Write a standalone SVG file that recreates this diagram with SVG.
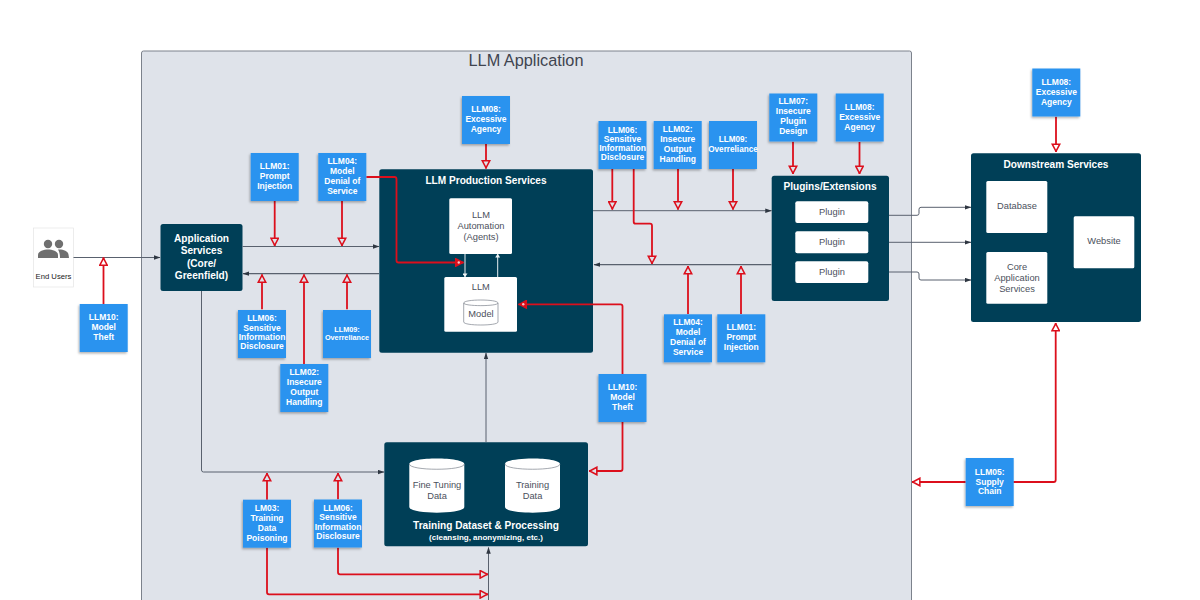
<svg xmlns="http://www.w3.org/2000/svg" width="1200" height="600" viewBox="0 0 1200 600">
<style>
text{font-family:"Liberation Sans",Arial,sans-serif;text-anchor:middle}
.note rect{fill:#2a93ef;filter:url(#sh)}
.note text{fill:#fff;font-weight:700;font-size:8.5px}
.note .s{font-size:7.3px}
.note .m{font-size:8.2px}
.dark{fill:#003f57}
.hd{fill:#fff;font-weight:700;font-size:10.1px}
.box{fill:#fff}
.t{fill:#4b505c;font-size:9.3px}
.g{fill:none;stroke:#59616e;stroke-width:1}
.gb{fill:none;stroke:#59616e;stroke-width:1.3}
.r{fill:none;stroke:#dc0f1c;stroke-width:1.8}
.w{fill:none;stroke:#e6eef2;stroke-width:1}
</style>
<defs>
<filter id="sh" x="-20%" y="-20%" width="140%" height="140%"><feDropShadow dx="-1" dy="1.5" stdDeviation="1" flood-color="#000" flood-opacity=".3"/></filter>
<marker id="h" viewBox="0 0 8 8" refX="7.6" refY="4" markerWidth="9.5" markerHeight="9.5" markerUnits="userSpaceOnUse" orient="auto"><path d="M1 .8L7 4L1 7.2Z" fill="#dfe3ea" stroke="#dc0f1c" stroke-width="1.3"/></marker>
<marker id="hw" viewBox="0 0 8 8" refX="7.6" refY="4" markerWidth="9.5" markerHeight="9.5" markerUnits="userSpaceOnUse" orient="auto"><path d="M1 .8L7 4L1 7.2Z" fill="#fff" stroke="#dc0f1c" stroke-width="1.3"/></marker>
<marker id="hd" viewBox="0 0 8 8" refX="7.6" refY="4" markerWidth="9.5" markerHeight="9.5" markerUnits="userSpaceOnUse" orient="auto"><path d="M1 .8L7 4L1 7.2Z" fill="#dc0f1c" stroke="#dc0f1c" stroke-width="1.2"/><circle cx="3.6" cy="4" r="1" fill="#f3c7ca"/></marker>
<marker id="a" viewBox="0 0 8 6" refX="7.5" refY="3" markerWidth="7" markerHeight="5" markerUnits="userSpaceOnUse" orient="auto"><path d="M0 .3L8 3L0 5.7Z" fill="#2f3742"/></marker>
<marker id="aw" viewBox="0 0 6 8" refX="5.5" refY="4" markerWidth="6" markerHeight="5" markerUnits="userSpaceOnUse" orient="auto"><path d="M0 0L6 4L0 8Z" fill="#eef4f6"/></marker>
</defs>
<rect width="1200" height="600" fill="#fff"/>
<g id="container"><rect x="141.5" y="51" width="770" height="560" rx="2" fill="#dfe3ea" stroke="#7c828c" stroke-width="1"/><text x="526" y="66" font-size="16.300" fill="#3f4550">LLM Application</text></g>

<g id="end-users"><rect x="33.500" y="228" width="40" height="59" fill="#fff" stroke="#e4e4e4" stroke-width=".7"/>
<circle cx="48" cy="244" r="4.200" fill="#6f6f6f"/><circle cx="59" cy="244" r="4.200" fill="#6f6f6f"/><path d="M38 258v-3c0-4 6-5.500 10-5.500s10 1.500 10 5.500v3Z" fill="#6f6f6f"/><path d="M58 249.500c4-.5 10 1 10.500 5l.5 3.500h-9c0-3-.5-6-2-8.500Z" fill="#6f6f6f"/>
<text x="53.500" y="279" font-size="7.700" fill="#222">End Users</text></g>

<g id="app-services"><rect class="dark" x="160.500" y="224" width="82" height="67" rx="2.500"/><text class="hd" x="201.500" y="242">Application</text><text class="hd" x="201.500" y="254">Services</text><text class="hd" x="201.500" y="266.500">(Core/</text><text class="hd" x="201.500" y="278.500">Greenfield)</text></g>

<g id="llm-production"><rect class="dark" x="379.300" y="169.300" width="213.700" height="183.400" rx="2.500"/><text class="hd" x="486" y="183.700">LLM Production Services</text></g>
<g id="llm-automation"><rect class="box" x="449.300" y="198.300" width="62.700" height="55.700" rx="1.500"/><text class="t" x="481" y="217.500">LLM</text><text class="t" x="481" y="228.500">Automation</text><text class="t" x="481" y="239.500">(Agents)</text></g>
<g id="llm"><rect class="box" x="444.300" y="277" width="72.700" height="54.700" rx="1.500"/><text class="t" x="480.800" y="290">LLM</text><path d="M463.700 303v19c0 4 34.300 4 34.300 0v-19c0-4-34.300-4-34.300 0Zm0 0c0 3.500 34.300 3.500 34.300 0" fill="#fff" stroke="#7d838d" stroke-width=".7"/><text class="t" x="481" y="317">Model</text></g>

<g id="plugins"><rect class="dark" x="771.700" y="175.700" width="117.300" height="125.300" rx="2.500"/><text class="hd" x="830" y="189.500">Plugins/Extensions</text></g>
<g id="plugin-1"><rect class="box" x="795.300" y="201.300" width="73" height="21.700" rx="2"/><text class="t" x="832" y="215">Plugin</text></g>
<g id="plugin-2"><rect class="box" x="795.300" y="231.300" width="73" height="22" rx="2"/><text class="t" x="832" y="245">Plugin</text></g>
<g id="plugin-3"><rect class="box" x="795.300" y="261.300" width="73" height="21.700" rx="2"/><text class="t" x="832" y="275">Plugin</text></g>

<g id="downstream"><rect class="dark" x="971" y="153.300" width="170" height="168.700" rx="2.500"/><text class="hd" x="1056" y="167.500">Downstream Services</text></g>
<g id="database"><rect class="box" x="986.300" y="181" width="61" height="52" rx="1.500"/><text class="t" x="1017" y="208.500">Database</text></g>
<g id="website"><rect class="box" x="1073.700" y="216.300" width="60.600" height="52" rx="1.500"/><text class="t" x="1104" y="244">Website</text></g>
<g id="core-app"><rect class="box" x="986.300" y="252" width="61" height="51.700" rx="1.500"/><text class="t" x="1017" y="269.500">Core</text><text class="t" x="1017" y="280.500">Application</text><text class="t" x="1017" y="291.500">Services</text></g>

<g id="training"><rect class="dark" x="384.300" y="442.300" width="203.700" height="104" rx="2.500"/>
<path d="M409.300 464v43c0 7.500 55 7.500 55 0v-43c0-7.500-55-7.500-55 0Z" fill="#fff"/><path d="M409.300 464c0 7 55 7 55 0" fill="none" stroke="#7d838d" stroke-width=".7"/>
<path d="M505 464v43c0 7.500 55 7.500 55 0v-43c0-7.500-55-7.500-55 0Z" fill="#fff"/><path d="M505 464c0 7 55 7 55 0" fill="none" stroke="#7d838d" stroke-width=".7"/>
<text class="t" x="437" y="488">Fine Tuning</text><text class="t" x="437" y="499">Data</text><text class="t" x="532.500" y="488">Training</text><text class="t" x="532.500" y="499">Data</text>
<text class="hd" x="486" y="528.500">Training Dataset &amp; Processing</text><text x="486" y="539.500" fill="#fff" font-weight="700" font-size="8">(cleansing, anonymizing, etc.)</text></g>

<g id="connectors">
<path class="g" marker-end="url(#a)" d="M73.500 257.500H160"/>
<path class="g" marker-end="url(#a)" d="M242.500 246.500H379"/>
<path class="gb" marker-end="url(#a)" d="M379 273.700H243"/>
<path class="g" marker-end="url(#a)" d="M201.500 291V470q0 2 2 2H384"/>
<path class="g" marker-end="url(#a)" d="M486 442V353"/>
<path class="g" marker-end="url(#a)" d="M488.500 600V547.500"/>
<path class="g" marker-end="url(#a)" d="M593 210.700H771.500"/>
<path class="gb" marker-end="url(#a)" d="M771.500 264.700H594"/>
<path class="g" marker-end="url(#a)" d="M889 215.300H917q2 0 2-2v-4q0-2 2-2H971"/>
<path class="g" marker-end="url(#a)" d="M889 242.300H971"/>
<path class="g" marker-end="url(#a)" d="M889 272H917q2 0 2 2v4q0 2 2 2H971"/>
<path class="w" marker-end="url(#aw)" d="M465 254V277"/>
<path class="w" marker-end="url(#aw)" d="M497.700 277V254"/>
<path class="r" marker-end="url(#hw)" d="M103.500 304V257.500"/>
<path class="r" marker-end="url(#h)" d="M274.700 201V246"/>
<path class="r" marker-end="url(#h)" d="M342 201V246"/>
<path class="r" marker-end="url(#h)" d="M262 309.300V274.500"/>
<path class="r" marker-end="url(#h)" d="M304 364V274.500"/>
<path class="r" marker-end="url(#h)" d="M347 309.300V274.500"/>
<path class="r" marker-end="url(#hd)" d="M366.300 177H394.500q2 0 2 2V260.500q0 2 2 2H463.500"/>
<path class="r" marker-end="url(#h)" d="M486 144V168.500"/>
<path class="r" marker-end="url(#h)" d="M612.300 169V209.500"/>
<path class="r" marker-end="url(#h)" d="M633.700 169V221.700q0 2 2 2H650q2 0 2 2V264"/>
<path class="r" marker-end="url(#h)" d="M678 169V209.500"/>
<path class="r" marker-end="url(#h)" d="M733 169V209.500"/>
<path class="r" marker-end="url(#h)" d="M793 141.700V174"/>
<path class="r" marker-end="url(#h)" d="M859.500 142V174"/>
<path class="r" marker-end="url(#h)" d="M688 314V266"/>
<path class="r" marker-end="url(#h)" d="M741 314V266"/>
<path class="r" marker-end="url(#hd)" d="M622.500 374V306.300q0-2-2-2H518.500"/>
<path class="r" marker-end="url(#h)" d="M622.500 422V469q0 2-2 2H589"/>
<path class="r" marker-end="url(#h)" d="M267 499.700V473"/>
<path class="r" marker-end="url(#h)" d="M338 499.300V473"/>
<path class="r" marker-end="url(#h)" d="M338 547.700V572.300q0 2 2 2H488"/>
<path class="r" marker-end="url(#h)" d="M267 547.700V592.300q0 2 2 2H488"/>
<path class="r" marker-end="url(#hw)" d="M1056 116.700V152"/>
<path class="r" marker-end="url(#hw)" d="M1013.300 482H1053.700q2 0 2-2V323"/>
<path class="r" marker-end="url(#hw)" d="M965.700 482H912"/>
</g>

<g id="n-llm10a" class="note"><rect x="79.700" y="304" width="48" height="48"/><text x="103.700" y="319.500">LLM10:</text><text x="103.700" y="329.500">Model</text><text x="103.700" y="339.500">Theft</text></g>
<g id="n-llm01a" class="note"><rect x="250.700" y="153" width="48" height="48"/><text x="274.700" y="169">LLM01:</text><text x="274.700" y="179">Prompt</text><text x="274.700" y="189">Injection</text></g>
<g id="n-llm04a" class="note"><rect x="318.300" y="153" width="48" height="48"/><text x="342.300" y="164">LLM04:</text><text x="342.300" y="174">Model</text><text x="342.300" y="184">Denial of</text><text x="342.300" y="194">Service</text></g>
<g id="n-llm06a" class="note"><rect x="238" y="310" width="48" height="48"/><text x="262" y="321">LLM06:</text><text x="262" y="330.500">Sensitive</text><text x="262" y="339.700">Information</text><text x="262" y="349">Disclosure</text></g>
<g id="n-llm09a" class="note"><rect x="323" y="310" width="48" height="48"/><text class="s" x="347" y="332">LLM09:</text><text class="s" x="347" y="340">Overreliance</text></g>
<g id="n-llm02a" class="note"><rect x="280.300" y="364" width="48" height="48"/><text x="304.300" y="374.500">LLM02:</text><text x="304.300" y="384.500">Insecure</text><text x="304.300" y="394.500">Output</text><text x="304.300" y="404.500">Handling</text></g>
<g id="n-llm08a" class="note"><rect x="462" y="96" width="48" height="48"/><text x="486" y="112">LLM08:</text><text x="486" y="122">Excessive</text><text x="486" y="132">Agency</text></g>
<g id="n-llm06b" class="note"><rect x="598.500" y="121" width="48" height="48"/><text x="622.500" y="132.500">LLM06:</text><text x="622.500" y="141.700">Sensitive</text><text x="622.500" y="151">Information</text><text x="622.500" y="160.300">Disclosure</text></g>
<g id="n-llm02b" class="note"><rect x="653.700" y="121" width="48" height="48"/><text x="677.700" y="131.500">LLM02:</text><text x="677.700" y="141.500">Insecure</text><text x="677.700" y="151.500">Output</text><text x="677.700" y="161.500">Handling</text></g>
<g id="n-llm09b" class="note"><rect x="709" y="121" width="48" height="48"/><text class="m" x="733" y="142">LLM09:</text><text class="m" x="733" y="151.500">Overreliance</text></g>
<g id="n-llm07" class="note"><rect x="769.300" y="93.500" width="48" height="48"/><text x="793.300" y="104">LLM07:</text><text x="793.300" y="114">Insecure</text><text x="793.300" y="124">Plugin</text><text x="793.300" y="134">Design</text></g>
<g id="n-llm08b" class="note"><rect x="835.700" y="93.500" width="48" height="48"/><text x="859.700" y="109.500">LLM08:</text><text x="859.700" y="119.500">Excessive</text><text x="859.700" y="129.500">Agency</text></g>
<g id="n-llm04b" class="note"><rect x="664" y="314.300" width="48" height="48"/><text x="688" y="325">LLM04:</text><text x="688" y="335">Model</text><text x="688" y="345">Denial of</text><text x="688" y="355">Service</text></g>
<g id="n-llm01b" class="note"><rect x="717.300" y="314.300" width="48" height="48"/><text x="741.300" y="330">LLM01:</text><text x="741.300" y="340">Prompt</text><text x="741.300" y="350">Injection</text></g>
<g id="n-llm10b" class="note"><rect x="598.500" y="374" width="48" height="48"/><text x="622.500" y="390">LLM10:</text><text x="622.500" y="400">Model</text><text x="622.500" y="410">Theft</text></g>
<g id="n-llm08c" class="note"><rect x="1032.300" y="68.500" width="48" height="48"/><text x="1056.300" y="84.500">LLM08:</text><text x="1056.300" y="94.500">Excessive</text><text x="1056.300" y="104.500">Agency</text></g>
<g id="n-llm05" class="note"><rect x="965.700" y="458" width="48" height="48"/><text x="989.700" y="475">LLM05:</text><text x="989.700" y="484.500">Supply</text><text x="989.700" y="494">Chain</text></g>
<g id="n-llm03" class="note"><rect x="243" y="499.700" width="48" height="48"/><text x="267" y="510.500">LM03:</text><text x="267" y="520.500">Training</text><text x="267" y="530.500">Data</text><text x="267" y="540.500">Poisoning</text></g>
<g id="n-llm06c" class="note"><rect x="314" y="499.500" width="48" height="48"/><text x="338" y="511">LLM06:</text><text x="338" y="520.300">Sensitive</text><text x="338" y="529.700">Information</text><text x="338" y="539">Disclosure</text></g>
</svg>
